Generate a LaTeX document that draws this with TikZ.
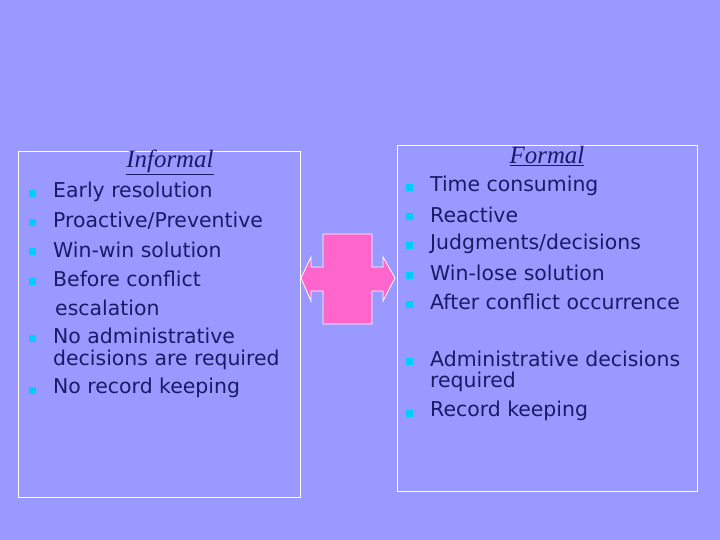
\documentclass[tikz,border=0pt]{standalone}
\usepackage{fontspec}
\setmainfont{DejaVu Sans}
\newfontfamily\ttl{Liberation Serif}
\definecolor{bg}{HTML}{9999FF}
\definecolor{ink}{HTML}{1A1A66}
\definecolor{bul}{HTML}{00CCFF}
\definecolor{pk}{HTML}{FF66CC}
\begin{document}
\begin{tikzpicture}[x=1bp,y=-1bp,
  txt/.style={anchor=west,text=ink,font=\fontsize{20.5}{23}\selectfont,inner sep=0pt},
  ttlst/.style={text=ink,font=\ttl\itshape\fontsize{25}{28}\selectfont,inner sep=1pt},
  bul/.style={fill=bul,minimum size=7bp,inner sep=0pt},
  boxst/.style={draw=white,line width=0.8bp}]
\fill[bg] (0,0) rectangle (720,540);
\useasboundingbox (0,0) rectangle (720,540);
\node[boxst,minimum width=282bp,minimum height=346bp,anchor=north west] (L) at (18,151) {};
\node[boxst,minimum width=300bp,minimum height=346bp,anchor=north west] (R) at (397,145) {};
\node[ttlst] (lt) at (170,162) {\underline{Informal}};
\node[ttlst] (rt) at (547,156) {\underline{Formal}};
% left items
\foreach \y/\t/\n in {192/{Early resolution}/a,221/{Proactive/Preventive}/b,250/{Win-win solution}/c,279/{Before conflict}/d,336/{No administrative}/e,388/{No record keeping}/f}{
  \node[bul] (lb\n) at (32,\y+2) {};
  \node[txt] (lt\n) at (53,\y) {\t};
}
\node[txt] (lx1) at (55,308) {escalation};
\node[txt] (lx2) at (53,360) {decisions are required};
% right items
\foreach \y/\t/\n in {186/{Time consuming}/a,215/{Reactive}/b,244/{Judgments/decisions}/c,273/{Win-lose solution}/d,302/{After conflict occurrence}/e,359/{Administrative decisions}/f,411/{Record keeping}/g}{
  \node[bul] (rb\n) at (409,\y+2) {};
  \node[txt] (rt\n) at (430,\y) {\t};
}
\node[txt] (rx1) at (430,382) {required};
% arrow
\draw[white,line width=0.8bp,fill=pk] (301,278) -- (311,257) -- (311,267) -- (323,267) -- (323,234) -- (372,234) -- (372,267) -- (383,267) -- (383,257) -- (395,278) -- (383,301) -- (383,291) -- (372,291) -- (372,324) -- (323,324) -- (323,291) -- (311,291) -- (311,301) -- cycle;
\end{tikzpicture}
\end{document}
